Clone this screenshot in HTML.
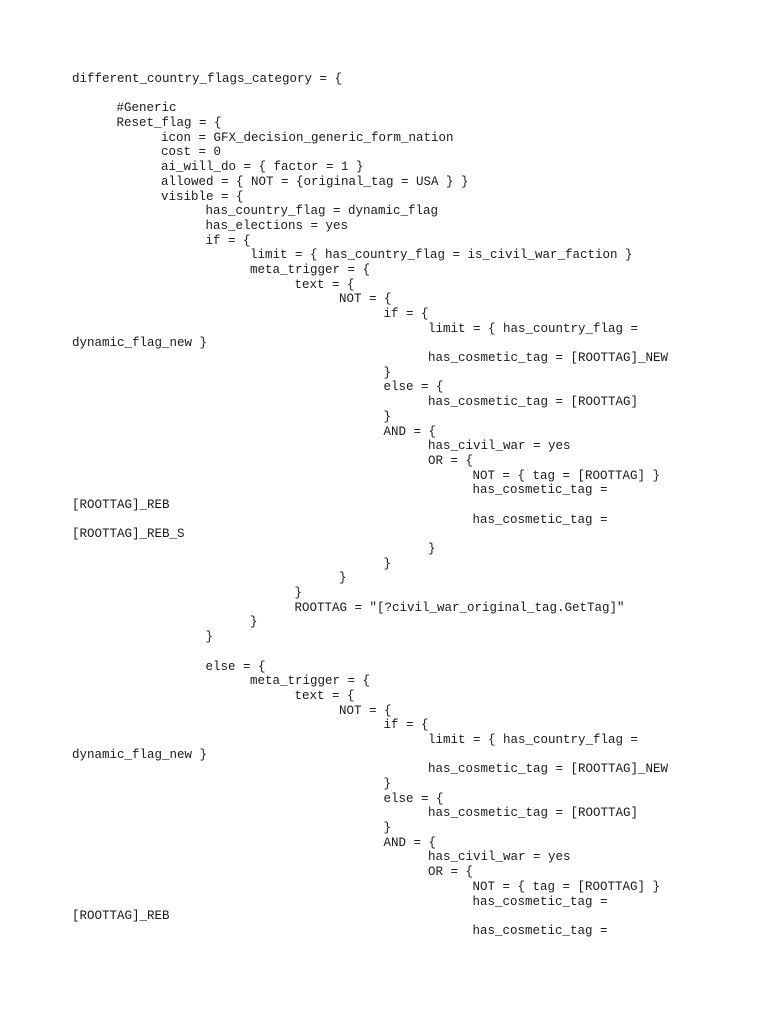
<!DOCTYPE html>
<html><head><meta charset="utf-8"><style>
html,body{margin:0;padding:0;background:#fff;width:768px;height:1024px;overflow:hidden}
pre{position:absolute;left:72px;top:72px;margin:0;font-family:"Liberation Mono",monospace;font-size:12.5px;line-height:14.68px;color:#1a1a1a;tab-size:44.5px;-moz-tab-size:44.5px;white-space:pre}
</style></head><body><pre>different_country_flags_category = {

	#Generic
	Reset_flag = {
		icon = GFX_decision_generic_form_nation
		cost = 0
		ai_will_do = { factor = 1 }
		allowed = { NOT = {original_tag = USA } }
		visible = {
			has_country_flag = dynamic_flag
			has_elections = yes
			if = {
				limit = { has_country_flag = is_civil_war_faction }
				meta_trigger = {
					text = {
						NOT = {
							if = {
								limit = { has_country_flag =
dynamic_flag_new }
								has_cosmetic_tag = [ROOTTAG]_NEW
							}
							else = {
								has_cosmetic_tag = [ROOTTAG]
							}
							AND = {
								has_civil_war = yes
								OR = {
									NOT = { tag = [ROOTTAG] }
									has_cosmetic_tag =
[ROOTTAG]_REB
									has_cosmetic_tag =
[ROOTTAG]_REB_S
								}
							}
						}
					}
					ROOTTAG = "[?civil_war_original_tag.GetTag]"
				}
			}

			else = {
				meta_trigger = {
					text = {
						NOT = {
							if = {
								limit = { has_country_flag =
dynamic_flag_new }
								has_cosmetic_tag = [ROOTTAG]_NEW
							}
							else = {
								has_cosmetic_tag = [ROOTTAG]
							}
							AND = {
								has_civil_war = yes
								OR = {
									NOT = { tag = [ROOTTAG] }
									has_cosmetic_tag =
[ROOTTAG]_REB
									has_cosmetic_tag =
</pre></body></html>
